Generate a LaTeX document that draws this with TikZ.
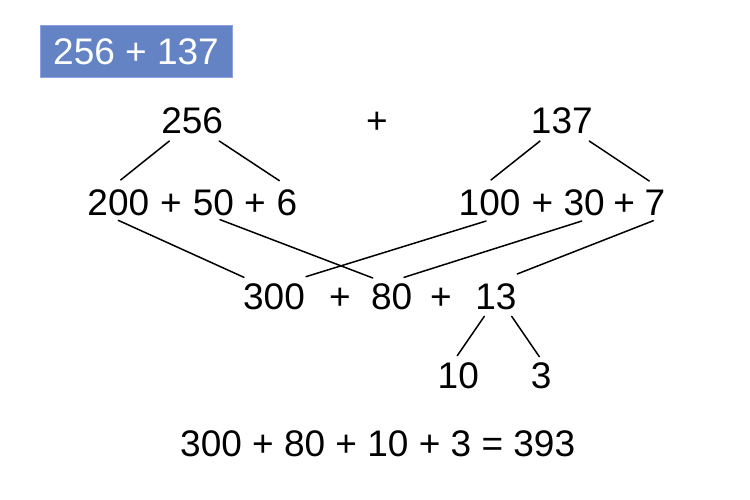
\documentclass[tikz,border=0pt]{standalone}
\usepackage{fontspec}
\setmainfont{Liberation Sans}
\begin{document}
\begin{tikzpicture}[x=1pt,y=1pt]
\definecolor{fillColor}{RGB}{255,255,255}
\path[use as bounding box,fill=fillColor] (0,0) rectangle (750,500);
\begin{scope}
\definecolor{fillColor}{RGB}{99,131,196}
\definecolor{drawColor}{RGB}{140,162,228}

\path[fill=fillColor,draw=drawColor,line width= 0.8pt] ( 40.00,423.00) rectangle (232.00,475.00);
\definecolor{drawColor}{RGB}{255,255,255}

\node[text=drawColor,anchor=base,inner sep=0pt, outer sep=0pt, scale=  3.70] (title) at (136.00,435.00) {256 + 137};
\end{scope}
\begin{scope}
\definecolor{drawColor}{RGB}{0,0,0}

\node[text=drawColor,anchor=base,inner sep=0pt, outer sep=0pt, scale=  3.70] (n256) at (192.20,366.00) {256};

\node[text=drawColor,anchor=base,inner sep=0pt, outer sep=0pt, scale=  3.70] (plusTop) at (377.00,366.00) {+};

\node[text=drawColor,anchor=base,inner sep=0pt, outer sep=0pt, scale=  3.70] (n137) at (561.80,366.00) {137};

\node[text=drawColor,anchor=base,inner sep=0pt, outer sep=0pt, scale=  3.70] (n200) at (118.30,284.50) {200};

\node[text=drawColor,anchor=base,inner sep=0pt, outer sep=0pt, scale=  3.70] (plusA) at (171.00,284.50) {+};

\node[text=drawColor,anchor=base,inner sep=0pt, outer sep=0pt, scale=  3.70] (n50) at (213.50,284.50) {50};

\node[text=drawColor,anchor=base,inner sep=0pt, outer sep=0pt, scale=  3.70] (plusB) at (255.00,284.50) {+};

\node[text=drawColor,anchor=base,inner sep=0pt, outer sep=0pt, scale=  3.70] (n6) at (287.00,284.50) {6};

\node[text=drawColor,anchor=base,inner sep=0pt, outer sep=0pt, scale=  3.70] (n100) at (489.60,284.50) {100};

\node[text=drawColor,anchor=base,inner sep=0pt, outer sep=0pt, scale=  3.70] (plusC) at (542.50,284.50) {+};

\node[text=drawColor,anchor=base,inner sep=0pt, outer sep=0pt, scale=  3.70] (n30) at (584.20,284.50) {30};

\node[text=drawColor,anchor=base,inner sep=0pt, outer sep=0pt, scale=  3.70] (plusD) at (624.20,284.50) {+};

\node[text=drawColor,anchor=base,inner sep=0pt, outer sep=0pt, scale=  3.70] (n7) at (655.00,284.50) {7};

\node[text=drawColor,anchor=base,inner sep=0pt, outer sep=0pt, scale=  3.70] (n300) at (274.00,190.70) {300};

\node[text=drawColor,anchor=base,inner sep=0pt, outer sep=0pt, scale=  3.70] (plusE) at (340.00,190.70) {+};

\node[text=drawColor,anchor=base,inner sep=0pt, outer sep=0pt, scale=  3.70] (n80) at (391.70,190.70) {80};

\node[text=drawColor,anchor=base,inner sep=0pt, outer sep=0pt, scale=  3.70] (plusF) at (440.80,190.70) {+};

\node[text=drawColor,anchor=base,inner sep=0pt, outer sep=0pt, scale=  3.70] (n13) at (495.90,190.70) {13};

\node[text=drawColor,anchor=base,inner sep=0pt, outer sep=0pt, scale=  3.70] (n10) at (458.30,111.70) {10};

\node[text=drawColor,anchor=base,inner sep=0pt, outer sep=0pt, scale=  3.70] (n3) at (541.20,111.70) {3};

\node[text=drawColor,anchor=base,inner sep=0pt, outer sep=0pt, scale=  3.70] (total) at (377.70, 43.30) {300 + 80 + 10 + 3 = 393};
\end{scope}
\begin{scope}
\definecolor{drawColor}{RGB}{0,0,0}

\path[draw=drawColor,line width= 1.5pt,line cap=round] ([shift={(-22.9,-6.7)}]n256.south) -- ([shift={(  2.4, 9.7)}]n200.north);

\path[draw=drawColor,line width= 1.5pt,line cap=round] ([shift={( 27.1,-6.7)}]n256.south) -- ([shift={( -7.7, 9.0)}]n6.north);

\path[draw=drawColor,line width= 1.5pt,line cap=round] ([shift={(-21.8,-6.7)}]n137.south) -- ([shift={(  1.4, 9.7)}]n100.north);

\path[draw=drawColor,line width= 1.5pt,line cap=round] ([shift={( 27.5,-6.7)}]n137.south) -- ([shift={( -5.7, 9.0)}]n7.north);

\path[draw=drawColor,line width= 1.5pt,line cap=round] ([shift={(  0.0,-4.5)}]n200.south) -- ([shift={(-30.0, 6.1)}]n300.north);

\path[draw=drawColor,line width= 1.5pt,line cap=round] ([shift={(  6.5,-3.8)}]n50.south) -- ([shift={(-19.0, 5.5)}]n80.north);

\path[draw=drawColor,line width= 1.5pt,line cap=round] ([shift={( -3.6,-5.2)}]n100.south) -- ([shift={( 32.0, 6.8)}]n300.north);

\path[draw=drawColor,line width= 1.5pt,line cap=round] ([shift={( -2.5,-5.2)}]n30.south) -- ([shift={( 12.3, 6.1)}]n80.north);

\path[draw=drawColor,line width= 1.5pt,line cap=round] ([shift={( -1.7,-5.2)}]n7.south) -- ([shift={( 21.4, 9.5)}]n13.north);

\path[draw=drawColor,line width= 1.5pt,line cap=round] ([shift={(-11.6,-6.7)}]n13.south) -- ([shift={( -1.0, 6.8)}]n10.north);

\path[draw=drawColor,line width= 1.5pt,line cap=round] ([shift={( 15.8,-6.7)}]n13.south) -- ([shift={( -1.9, 5.8)}]n3.north);
\end{scope}
\end{tikzpicture}
\end{document}
